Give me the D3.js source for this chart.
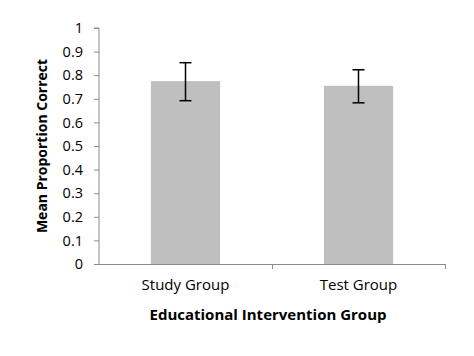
<!DOCTYPE html>
<html><head><meta charset="utf-8">
<script src="https://cdn.jsdelivr.net/npm/d3@7"></script>
<style>body{margin:0;background:#fff;} svg{display:block;}</style>
</head><body>
<svg id="c" width="474" height="356"></svg>
<script>
const categories = ["Study Group", "Test Group"];
const means = [0.775, 0.755];
const errUpper = [0.078, 0.068];
const errLower = [0.083, 0.072];
const yTicks = [0, 0.1, 0.2, 0.3, 0.4, 0.5, 0.6, 0.7, 0.8, 0.9, 1];
const xTitle = "Educational Intervention Group";
const yTitle = "Mean Proportion Correct";

(function () {
const svg = d3.select("#c");
const mLeft = 99, mRight = 445, mTop = 28, mBottom = 264;
const font = "'Open Sans', 'Noto Sans', sans-serif";
const axisColor = "#8c8c8c";

const x = d3.scaleBand().domain(categories).range([mLeft, mRight]).paddingInner(0.6).paddingOuter(0.3);
const xb = d3.scaleBand().domain(categories).range([mLeft, mRight]);
const y = d3.scaleLinear().domain([0, 1]).range([mBottom, mTop]);

// bars
svg.selectAll("rect.bar").data(categories).enter().append("rect")
  .attr("x", d => x(d)).attr("width", x.bandwidth())
  .attr("y", (d, i) => y(means[i])).attr("height", (d, i) => y(0) - y(means[i]))
  .attr("fill", "#bfbfbf");

// y axis
const yAxis = d3.axisLeft(y).tickValues(yTicks).tickSize(5).tickPadding(11).tickFormat(d3.format(""));
const gy = svg.append("g").attr("transform", `translate(${mLeft},0)`).call(yAxis);
gy.select(".domain").attr("stroke", axisColor).attr("d", `M-5,${mTop}H0V${mBottom}`);
gy.selectAll(".tick line").attr("stroke", axisColor);
gy.selectAll(".tick text").attr("fill", "#000").style("font-family", font).style("font-size", "14.5px");

// x axis: boundary ticks
const gx = svg.append("g");
gx.append("line").attr("x1", mLeft).attr("x2", mRight).attr("y1", mBottom + 0.5).attr("y2", mBottom + 0.5).attr("stroke", axisColor);
const bounds = categories.map(c => xb(c) + xb.bandwidth());
gx.selectAll("line.bt").data(bounds).enter().append("line")
  .attr("x1", d => Math.round(d) + 0.5).attr("x2", d => Math.round(d) + 0.5)
  .attr("y1", mBottom).attr("y2", mBottom + 5).attr("stroke", axisColor);
gx.selectAll("text.cat").data(categories).enter().append("text")
  .attr("x", d => x(d) + x.bandwidth() / 2).attr("y", 290)
  .attr("text-anchor", "middle").style("font-family", font).style("font-size", "15px")
  .text(d => d);

// error bars
const eb = svg.selectAll("g.eb").data(categories).enter().append("g").attr("stroke", "#000").attr("stroke-width", 1.5);
eb.append("line").attr("x1", d => x(d) + x.bandwidth() / 2).attr("x2", d => x(d) + x.bandwidth() / 2)
  .attr("y1", (d, i) => y(means[i] + errUpper[i])).attr("y2", (d, i) => y(means[i] - errLower[i]));
eb.append("line").attr("x1", d => x(d) + x.bandwidth() / 2 - 6).attr("x2", d => x(d) + x.bandwidth() / 2 + 6)
  .attr("y1", (d, i) => y(means[i] + errUpper[i])).attr("y2", (d, i) => y(means[i] + errUpper[i]));
eb.append("line").attr("x1", d => x(d) + x.bandwidth() / 2 - 6).attr("x2", d => x(d) + x.bandwidth() / 2 + 6)
  .attr("y1", (d, i) => y(means[i] - errLower[i])).attr("y2", (d, i) => y(means[i] - errLower[i]));

// titles
svg.append("text").attr("x", 268).attr("y", 320).attr("text-anchor", "middle")
  .style("font-family", font).style("font-size", "15px").style("font-weight", "bold").text(xTitle);
svg.append("text").attr("transform", "translate(47,146) rotate(-90)").attr("text-anchor", "middle")
  .style("font-family", font).style("font-size", "14px").style("font-weight", "bold").text(yTitle);
})();
</script>
</body></html>
